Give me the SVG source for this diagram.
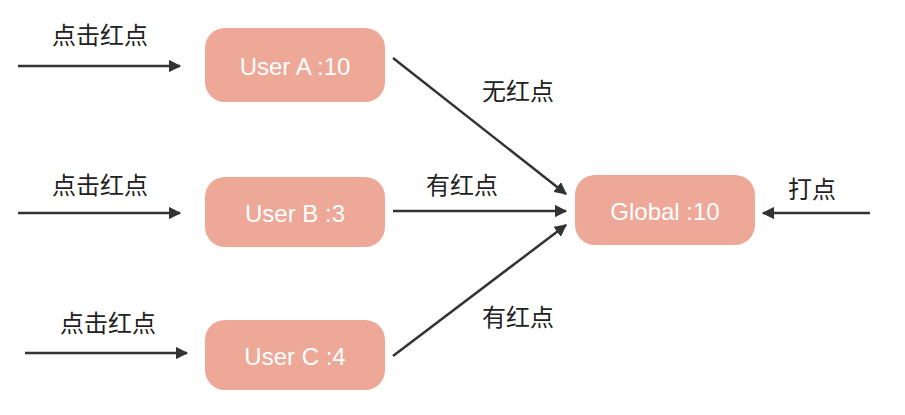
<svg xmlns="http://www.w3.org/2000/svg" width="905" height="415" viewBox="0 0 905 415">
<style>
.n{fill:#EDA898}
.t{fill:#fff;font-family:"Liberation Sans","Noto Sans",sans-serif;font-size:24px;text-anchor:middle;dominant-baseline:central}
.l{fill:#222;font-family:"Noto Sans CJK SC",sans-serif;font-size:24px;text-anchor:middle}
.c{stroke:#333;stroke-width:2.5;fill:none;marker-end:url(#a)}
</style>
<defs><marker id="a" viewBox="0 0 10 10" refX="9" refY="5" markerWidth="5" markerHeight="5" orient="auto"><path d="M0,0L10,5L0,10z" fill="#333"/></marker></defs>
<rect width="905" height="415" fill="#fff"/>
<g id="userA"><rect class="n" x="205" y="28" width="180" height="74" rx="20"/><text class="t" x="295" y="66">User A :10</text></g>
<g id="userB"><rect class="n" x="205" y="177" width="180" height="70" rx="20"/><text class="t" x="295" y="213">User B :3</text></g>
<g id="userC"><rect class="n" x="205" y="320" width="180" height="70" rx="20"/><text class="t" x="295" y="356">User C :4</text></g>
<g id="global"><rect class="n" x="575" y="175" width="180" height="70" rx="20"/><text class="t" x="665" y="211">Global :10</text></g>
<g id="connectors">
<path class="c" d="M18,66H180"/>
<path class="c" d="M18,213H180"/>
<path class="c" d="M25,353H187"/>
<path class="c" d="M393,58L566,194"/>
<path class="c" d="M393,211H566"/>
<path class="c" d="M393,356L566,225"/>
<path class="c" d="M870,213H763"/>
</g>
<g id="labels">
<text class="l" x="100" y="44">点击红点</text>
<text class="l" x="100" y="194">点击红点</text>
<text class="l" x="108" y="332">点击红点</text>
<text class="l" x="518" y="100">无红点</text>
<text class="l" x="462" y="194">有红点</text>
<text class="l" x="518" y="326">有红点</text>
<text class="l" x="812" y="198">打点</text>
</g>
</svg>
